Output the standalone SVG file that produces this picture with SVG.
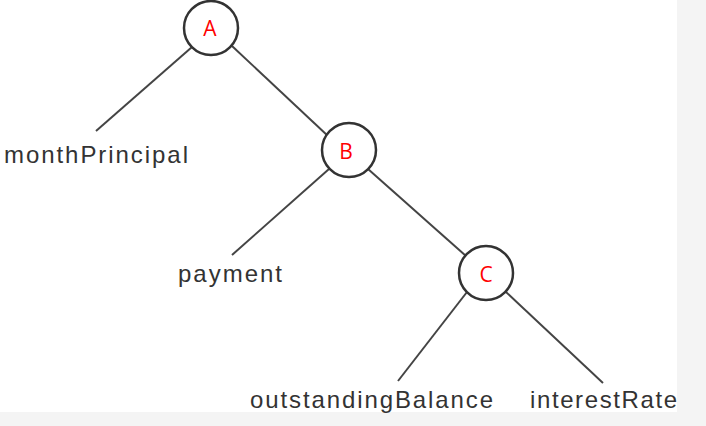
<svg xmlns="http://www.w3.org/2000/svg" width="706" height="426" viewBox="0 0 706 426">
<style>
.n{fill:#fff;stroke:#333;stroke-width:2.5}
.l{font-family:"Open Sans",sans-serif;font-size:21px;fill:#f00;text-anchor:middle}
.t{font-family:"Liberation Sans",Arial,sans-serif;font-size:24px;fill:#333;lengthAdjust:spacing}
.c line{stroke:#444;stroke-width:2}
</style>
<rect width="706" height="426" fill="#f4f4f4"/>
<rect width="677" height="412" fill="#fff"/>
<g class="c">
<line x1="192" y1="47" x2="96" y2="131"/>
<line x1="232" y1="46" x2="328" y2="136"/>
<line x1="329" y1="169" x2="232" y2="255"/>
<line x1="368" y1="169" x2="466" y2="256"/>
<line x1="467" y1="292" x2="398" y2="381"/>
<line x1="506" y1="292" x2="603" y2="383"/>
</g>
<g id="A"><circle class="n" cx="211" cy="28" r="27"/><text class="l" x="210" y="36">A</text></g>
<g id="B"><circle class="n" cx="349" cy="150" r="27"/><text class="l" x="346" y="159">B</text></g>
<g id="C"><circle class="n" cx="486" cy="273" r="27"/><text class="l" x="486" y="282">C</text></g>
<g id="monthPrincipal"><text class="t" x="4" y="163" textLength="184">monthPrincipal</text></g>
<g id="payment"><text class="t" x="178" y="282" textLength="104">payment</text></g>
<g id="outstandingBalance"><text class="t" x="250" y="408" textLength="243">outstandingBalance</text></g>
<g id="interestRate"><text class="t" x="530" y="408" textLength="147">interestRate</text></g>
</svg>
